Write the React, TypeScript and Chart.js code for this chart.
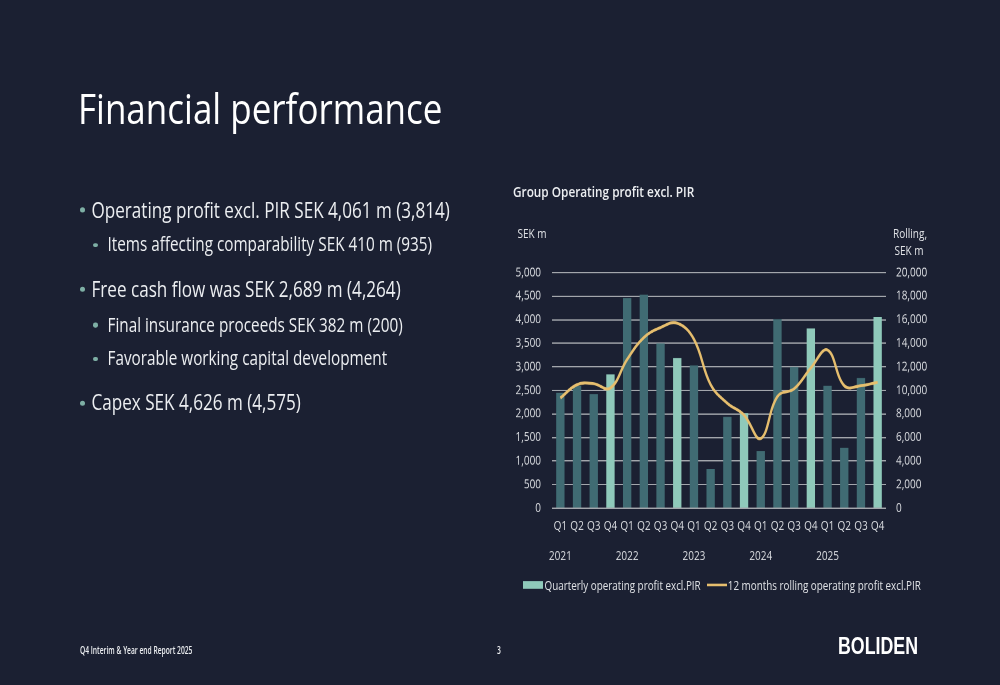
import React, { useEffect, useRef } from "react";
import { Chart, registerables } from "chart.js";

Chart.register(...registerables);

// ---- data ----
const quarterLabels = [
  "Q1", "Q2", "Q3", "Q4",
  "Q1", "Q2", "Q3", "Q4",
  "Q1", "Q2", "Q3", "Q4",
  "Q1", "Q2", "Q3", "Q4",
  "Q1", "Q2", "Q3", "Q4",
];
const yearLabels = [
  "2021", "", "", "",
  "2022", "", "", "",
  "2023", "", "", "",
  "2024", "", "", "",
  "2025", "", "", "",
];
// Quarterly operating profit excl. PIR, SEK m
const quarterlyProfit = [
  2450, 2600, 2420, 2840,
  4460, 4530, 3500, 3190,
  3030, 830, 1940, 2020,
  1210, 4010, 3000, 3814,
  2600, 1280, 2760, 4061,
];
// 12 months rolling operating profit excl. PIR, SEK m
const rollingProfit = [
  9350, 10490, 10570, 10200,
  12630, 14490, 15340, 15710,
  14340, 10490, 8910, 7910,
  5910, 9490, 10140, 11910,
  13430, 10400, 10400, 10690,
];
const bulletLines = [
  { level: 1, text: "Operating profit excl. PIR SEK 4,061 m (3,814)" },
  { level: 2, text: "Items affecting comparability SEK 410 m (935)" },
  { level: 1, text: "Free cash flow was SEK 2,689 m (4,264)" },
  { level: 2, text: "Final insurance proceeds SEK 382 m (200)" },
  { level: 2, text: "Favorable working capital development" },
  { level: 1, text: "Capex SEK 4,626 m (4,575)" },
];
const barLegendLabel = "Quarterly operating profit excl.PIR";
const lineLegendLabel = "12 months rolling operating profit excl.PIR";

// ---- style ----
const BG = "#1b2032";
const FONT = "'Open Sans', 'Noto Sans', sans-serif";
const TEXT = "#eceef1";
const AXIS_TEXT = "#dfe1e5";
const BAR_DARK = "#406b73";
const BAR_LIGHT = "#8fc9ba";
const LINE = "#e6be6e";
const GRID = "#a3a6ac";
const SY = 1.28; // slide vertical stretch

const bulletBaselines = [169.8, 196.6, 231.8, 259.1, 285.2, 320.3];

const fmt = (v: number) => Number(v).toLocaleString("en-US");

type TxtProps = {
  x: number;
  base: number;
  size: number;
  weight?: number;
  color?: string;
  sy?: number;
  align?: "left" | "right";
  family?: string;
  asc?: number;
  children: React.ReactNode;
  letterSpacing?: number;
};

function Txt({
  x, base, size, weight = 400, color = TEXT, sy = 1, align = "left",
  family = FONT, asc = 0.888, children, letterSpacing,
}: TxtProps) {
  const style: React.CSSProperties = {
    position: "absolute",
    top: base - asc * size,
    fontSize: size,
    lineHeight: 1,
    fontFamily: family,
    fontWeight: weight,
    color,
    whiteSpace: "nowrap",
    letterSpacing,
    transform: sy !== 1 ? `scaleY(${sy})` : undefined,
    transformOrigin: `0 ${asc * size}px`,
  };
  if (align === "right") style.right = 1000 - x;
  else style.left = x;
  return <div style={style}>{children}</div>;
}

function Dot({ x, y, d }: { x: number; y: number; d: number }) {
  return (
    <div
      style={{
        position: "absolute",
        left: x - d / 2,
        top: y - d / SY / 2,
        width: d,
        height: d / SY,
        borderRadius: "50%",
        background: BAR_LIGHT,
        opacity: 0.85,
      }}
    />
  );
}

function ProfitChart() {
  const ref = useRef<HTMLCanvasElement | null>(null);

  useEffect(() => {
    if (!ref.current) return;
    const tickFont = { family: FONT, size: 10 };
    const barColors = quarterLabels.map((q) => (q === "Q4" ? BAR_LIGHT : BAR_DARK));
    const chart = new Chart(ref.current, {
      type: "bar",
      data: {
        labels: quarterLabels.map((q, i) => [q, yearLabels[i]]),
        datasets: [
          {
            type: "line",
            label: lineLegendLabel,
            data: rollingProfit,
            yAxisID: "yRight",
            borderColor: LINE,
            borderWidth: 2.3,
            tension: 0.4,
            pointRadius: 0,
            fill: false,
            order: 0,
          } as any,
          {
            type: "bar",
            label: barLegendLabel,
            data: quarterlyProfit,
            yAxisID: "yLeft",
            backgroundColor: barColors,
            borderWidth: 0,
            barPercentage: 0.5,
            categoryPercentage: 1,
            order: 1,
          },
        ],
      },
      options: {
        responsive: false,
        animation: false,
        devicePixelRatio: 2,
        layout: { padding: { top: 10, left: 0, right: 0, bottom: 0 } },
        plugins: { legend: { display: false }, tooltip: { enabled: false } },
        scales: {
          x: {
            grid: { display: false, drawTicks: false },
            border: { display: false },
            ticks: {
              color: AXIS_TEXT,
              font: { ...tickFont, lineHeight: 2.36 },
              padding: 2.5,
              autoSkip: false,
              maxRotation: 0,
              minRotation: 0,
            },
            afterFit: (s: any) => {
              s.height = 50;
            },
          },
          yLeft: {
            position: "left",
            min: 0,
            max: 5000,
            ticks: {
              stepSize: 500,
              color: AXIS_TEXT,
              font: tickFont,
              padding: 11,
              callback: (v: any) => fmt(v),
            },
            grid: { color: GRID, lineWidth: 1, drawTicks: false },
            border: { display: false },
            afterFit: (s: any) => {
              s.width = 52;
            },
          },
          yRight: {
            position: "right",
            min: 0,
            max: 20000,
            ticks: {
              stepSize: 2000,
              color: AXIS_TEXT,
              font: tickFont,
              padding: 10,
              callback: (v: any) => fmt(v),
            },
            grid: { display: false, drawTicks: false },
            border: { display: false },
            afterFit: (s: any) => {
              s.width = 54;
            },
          },
        },
      },
    } as any);
    return () => chart.destroy();
  }, []);

  return (
    <canvas
      ref={ref}
      width={440}
      height={251}
      style={{ position: "absolute", left: 500, top: 196, width: 440, height: 251 }}
    />
  );
}

export default function App() {
  return (
    <div style={{ position: "fixed", inset: 0, background: BG, overflow: "hidden" }}>
      <div
        style={{
          position: "absolute",
          left: 0,
          top: 0,
          width: 1000,
          height: 685 / SY,
          transform: `scaleY(${SY})`,
          transformOrigin: "0 0",
        }}
      >
        <Txt x={78} base={97.3} size={35} weight={500} color="#ffffff" sy={0.92}>
          Financial performance
        </Txt>

        {bulletLines.map((b, i) => {
          const lvl1 = b.level === 1;
          const size = lvl1 ? 17.1 : 15.3;
          const base = bulletBaselines[i];
          return (
            <React.Fragment key={i}>
              <Dot x={lvl1 ? 82 : 95.5} y={base - (lvl1 ? 5.6 : 5)} d={lvl1 ? 5 : 4.2} />
              <Txt x={lvl1 ? 91.5 : 107.5} base={base} size={size}>
                {b.text}
              </Txt>
            </React.Fragment>
          );
        })}

        <Txt x={513} base={154.1} size={11.8} weight={600}>
          Group Operating profit excl. PIR
        </Txt>
        <Txt x={517.5} base={185.7} size={10} color={AXIS_TEXT}>
          SEK m
        </Txt>
        <Txt x={927} base={186.2} size={10} color={AXIS_TEXT} align="right">
          Rolling,
        </Txt>
        <Txt x={923.5} base={199.2} size={10} color={AXIS_TEXT} align="right">
          SEK m
        </Txt>

        <ProfitChart />

        {/* legend */}
        <div
          style={{
            position: "absolute",
            left: 523.3,
            top: 457 - 2.6,
            width: 20,
            height: 5.2,
            background: BAR_LIGHT,
          }}
        />
        <Txt x={544.5} base={461.5} size={9.85} color={AXIS_TEXT}>
          {barLegendLabel}
        </Txt>
        <div
          style={{
            position: "absolute",
            left: 706.7,
            top: 457 - 0.9,
            width: 20,
            height: 1.8,
            background: LINE,
          }}
        />
        <Txt x={727.8} base={461.5} size={9.85} color={AXIS_TEXT}>
          {lineLegendLabel}
        </Txt>

        {/* footer */}
        <Txt x={80} base={511.7} size={6.7} weight={600} sy={1.15}>
          Q4 Interim &amp; Year end Report 2025
        </Txt>
        <Txt x={497} base={511.7} size={6.7} weight={600} sy={1.15}>
          3
        </Txt>
        <Txt
          x={838}
          base={511.7}
          size={17.8}
          weight={700}
          color="#ffffff"
          family="'Liberation Sans', Arial, sans-serif"
          asc={0.8465}
          sy={1.08}
        >
          BOLIDEN
        </Txt>
      </div>
    </div>
  );
}
